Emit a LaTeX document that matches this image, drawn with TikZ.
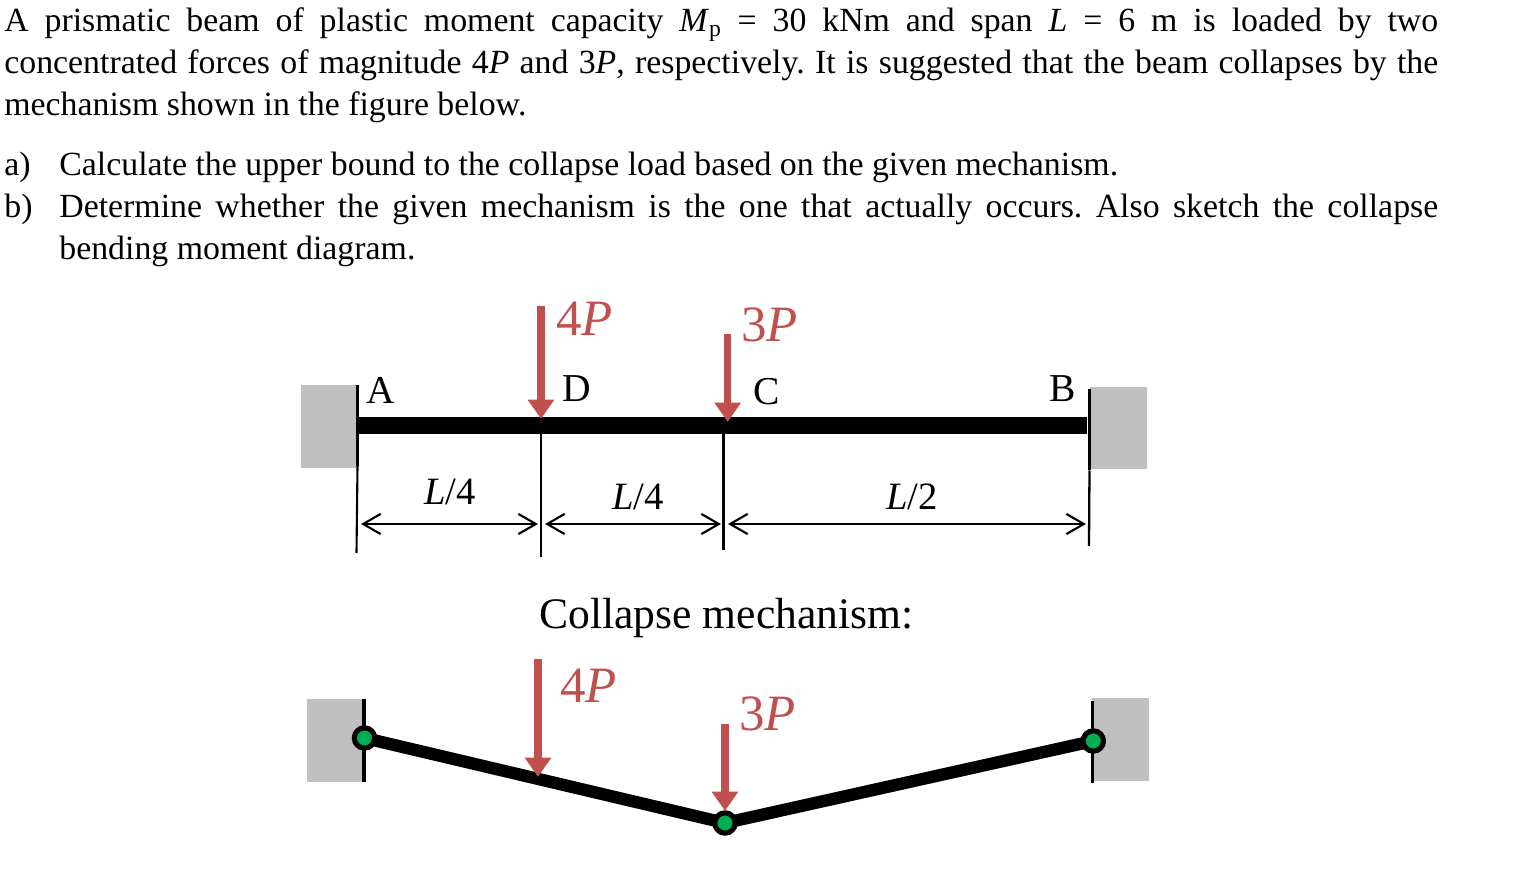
\documentclass[tikz,border=0pt]{standalone}
\usepackage{fontspec}
\setmainfont{Liberation Serif}
\usetikzlibrary{arrows.meta}
\definecolor{loadred}{HTML}{C0504D}
\definecolor{wallgrey}{HTML}{BFBFBF}
\definecolor{hingegreen}{HTML}{00B050}
\frenchspacing
\newcommand{\bodyline}[1]{\hbox to 816pt{#1}}
\newcommand{\itemline}[1]{\hbox to 784.6pt{#1}}
\tikzset{
  bodytext/.style={anchor=base west, font=\fontsize{19.25pt}{23pt}\selectfont},
  figlabel/.style={anchor=base west, font=\fontsize{22.5pt}{26pt}\selectfont},
  dimlabel/.style={anchor=base west, font=\fontsize{22pt}{26pt}\selectfont},
  loadlabel/.style={anchor=base west, text=loadred, font=\fontsize{29pt}{33pt}\selectfont},
  titletext/.style={anchor=base west, font=\fontsize{24.8pt}{29pt}\selectfont},
  wall/.style={fill=wallgrey, draw=none},
  load/.style={loadred, line width=4pt, -{Triangle[length=11pt,width=14.4pt]}},
  dimline/.style={line width=1.2pt, {Straight Barb[length=10pt,width=11.5pt]}-{Straight Barb[length=10pt,width=11.5pt]}},
  hinge/.style={circle, draw=black, fill=hingegreen, line width=2.9pt, minimum size=11.6pt}
}
\begin{document}
\begin{tikzpicture}[scale=0.2]
\tikzstyle{every node}+=[inner sep=0pt]
\useasboundingbox (0,0) rectangle (152.8,-87);
% question text
\node [bodytext] (line1) at (0.4,-3.15) {\bodyline{A prismatic beam of plastic moment capacity \textit{M}\textsubscript{p} = 30 kNm and span \textit{L} = 6 m is loaded by two}};
\node [bodytext] (line2) at (0.4,-7.35) {\bodyline{concentrated forces of magnitude 4\textit{P} and 3\textit{P}, respectively. It is suggested that the beam collapses by the}};
\node [bodytext] (line3) at (0.4,-11.5) {mechanism shown in the figure below.};
\node [bodytext] (itema) at (0.4,-17.5) {a)};
\node [bodytext] (linea) at (5.9,-17.5) {Calculate the upper bound to the collapse load based on the given mechanism.};
\node [bodytext] (itemb) at (0.4,-21.7) {b)};
\node [bodytext] (lineb) at (5.9,-21.7) {\itemline{Determine whether the given mechanism is the one that actually occurs. Also sketch the collapse}};
\node [bodytext] (linec) at (5.9,-25.9) {bending moment diagram.};
% beam
\fill [wall] (30.1,-38.5) rectangle (35.8,-46.8);
\fill [wall] (109,-38.7) rectangle (114.7,-46.9);
\coordinate (A) at (35.7,-42.57);
\coordinate (D) at (54.1,-42.57);
\coordinate (C) at (72.35,-42.57);
\coordinate (B) at (108.7,-42.57);
\coordinate (Atop) at (35.75,-38.5);
\coordinate (Awall) at (35.75,-46.6);
\coordinate (Afoot) at (35.65,-55.3);
\coordinate (Dfoot) at (54.1,-55.7);
\coordinate (Cfoot) at (72.35,-55);
\coordinate (Btop) at (108.95,-38.9);
\coordinate (Bwall) at (108.95,-47.05);
\coordinate (Bfoot) at (108.9,-54.6);
\draw [line width=2pt] (Atop) -- (Awall);
\draw [line width=1.2pt] (Awall) -- (Afoot);
\draw [line width=1.2pt] (D) -- (Dfoot);
\draw [line width=1.2pt] (C) -- (Cfoot);
\draw [line width=2.2pt] (Btop) -- (Bwall);
\draw [line width=1.3pt] (Bwall) -- (Bfoot);
\draw [line width=9.5pt] (A) -- (B);
% loads on the beam
\coordinate (load4top) at (54.1,-30.6);
\coordinate (load4tip) at (54.1,-41.9);
\coordinate (load3top) at (72.77,-33.4);
\coordinate (load3tip) at (72.77,-42.2);
\draw [load] (load4top) -- (load4tip);
\draw [load] (load3top) -- (load3tip);
\node [loadlabel] (lab4) at (55.6,-33.5) {4\textit{P}};
\node [loadlabel] (lab3) at (74.1,-34.1) {3\textit{P}};
\node [figlabel] (labA) at (36.6,-40.3) {A};
\node [figlabel] (labD) at (56.2,-40.1) {D};
\node [figlabel] (labC) at (75.3,-40.4) {C};
\node [figlabel] (labB) at (104.9,-40.1) {B};
% dimensions
\coordinate (d1a) at (36.1,-52.4);
\coordinate (d1b) at (53.8,-52.4);
\coordinate (d2a) at (54.5,-52.4);
\coordinate (d2b) at (72.1,-52.4);
\coordinate (d3a) at (72.8,-52.4);
\coordinate (d3b) at (108.6,-52.4);
\draw [dimline] (d1a) -- (d1b);
\draw [dimline] (d2a) -- (d2b);
\draw [dimline] (d3a) -- (d3b);
\node [dimlabel] (dim1) at (42.4,-50.4) {\textit{L}/4};
\node [dimlabel] (dim2) at (61.2,-50.9) {\textit{L}/4};
\node [dimlabel] (dim3) at (88.6,-50.9) {\textit{L}/2};
\node [titletext] (title) at (53.9,-62.8) {Collapse mechanism:};
% mechanism
\fill [wall] (30.65,-69.9) rectangle (36.4,-78.15);
\fill [wall] (109.2,-69.8) rectangle (114.9,-78.1);
\coordinate (lefttop) at (36.4,-69.9);
\coordinate (leftfoot) at (36.4,-78.2);
\coordinate (righttop) at (109.23,-70.15);
\coordinate (rightfoot) at (109.23,-78.25);
\draw [line width=2pt] (lefttop) -- (leftfoot);
\draw [line width=2pt] (righttop) -- (rightfoot);
\coordinate (pivotA) at (36.45,-73.8);
\coordinate (pivotC) at (72.5,-82.3);
\coordinate (pivotB) at (109.33,-74.1);
\draw [line width=7pt] (pivotA) -- (pivotC);
\draw [line width=7pt] (pivotC) -- (pivotB);
\node [hinge] (hingeA) at (pivotA) {};
\node [hinge] (hingeC) at (pivotC) {};
\node [hinge] (hingeB) at (pivotB) {};
\coordinate (mech4top) at (53.8,-65.9);
\coordinate (mech4tip) at (53.8,-77.7);
\coordinate (mech3top) at (72.5,-72.4);
\coordinate (mech3tip) at (72.5,-81.1);
\draw [load] (mech4top) -- (mech4tip);
\draw [load] (mech3top) -- (mech3tip);
\node [loadlabel] (mlab4) at (56,-70.2) {4\textit{P}};
\node [loadlabel] (mlab3) at (73.9,-73) {3\textit{P}};
\end{tikzpicture}
\end{document}
